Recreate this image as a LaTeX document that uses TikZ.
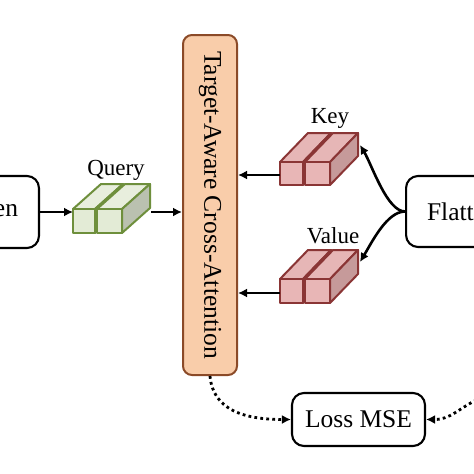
\documentclass[tikz,border=0pt]{standalone}
\usepackage{fontspec}
\setmainfont{Liberation Serif}
\usetikzlibrary{arrows.meta,calc}
\definecolor{qline}{HTML}{6E8F3C}
\definecolor{qfront}{HTML}{E3EBD6}
\definecolor{qtop}{HTML}{E8EEDD}
\definecolor{qside}{HTML}{BAC1B0}
\definecolor{kline}{HTML}{8A3535}
\definecolor{kfront}{HTML}{E8B6B6}
\definecolor{ktop}{HTML}{E6B6B6}
\definecolor{kside}{HTML}{C69A9A}
\definecolor{afill}{HTML}{F9CDAA}
\definecolor{aline}{HTML}{8B4A28}
\newcommand{\bigf}{\fontsize{25.5}{30}\selectfont}
\newcommand{\labf}{\fontsize{23}{26}\selectfont}
% #1 x, #2 y (front top-left), #3 w, #4 h, #5 dx, #6 dy, #7 colour prefix
\newcommand{\mycuboid}[7]{%
  \filldraw[cubeline=#7, fill=#7top] (#1,#2) -- ++(#5,-#6) -- ++(#3,0) -- ++(-#5,#6) -- cycle;
  \filldraw[cubeline=#7, fill=#7side] ({#1+#3},#2) -- ++(#5,-#6) -- ++(0,#4) -- ++(-#5,#6) -- cycle;
  \filldraw[cubeline=#7, fill=#7front] (#1,#2) rectangle ++(#3,#4);
}
\tikzset{
  cubeline/.style={draw=#1line, line width=2pt, line join=round},
  box/.style={draw=black, line width=2.1pt, rounded corners=12pt, fill=white, inner sep=0pt},
  attnbox/.style={draw=aline, fill=afill, line width=2pt, rounded corners=9pt, inner sep=0pt},
  ghost/.style={inner sep=0pt, outer sep=0pt},
  arr/.style={line width=2.6pt, -{Latex[length=9pt,width=9pt]}},
  dotarr/.style={line width=2.8pt, dash pattern=on 2.8pt off 3.2pt, -{Latex[length=9pt,width=9pt]}},
  lab/.style={inner sep=0pt, anchor=base, font=\labf},
}
\begin{document}
\begin{tikzpicture}[x=1pt,y=-1pt]
\fill[white] (0,0) rectangle (474,474);
\useasboundingbox (0,0) rectangle (474,474);

% left (clipped) box
\node[box, minimum width=90pt, minimum height=72pt, anchor=east] (src) at (40,212) {};
\node[ghost, anchor=east, font=\bigf] (srctxt) at (18,211) {en};

% attention box
\node[attnbox, minimum width=54pt, minimum height=340pt] (attn) at (210,205)
  {\rotatebox{-90}{\bigf Target-Aware Cross-Attention}};

% Flatten box (clipped)
\node[box, minimum width=120pt, minimum height=71pt, anchor=west] (flat) at (405,211.5) {};
\node[ghost, anchor=west, font=\bigf] (flattxt) at (427,212) {Flatt};

% Loss box
\node[box, minimum width=133pt, minimum height=53pt, font=\bigf] (loss) at (358.5,419.5) {Loss MSE};

% Query cubes
\mycuboid{73}{209}{22}{24}{28}{25}{q}
\mycuboid{97}{209}{25}{24}{28}{25}{q}
\node[ghost, minimum width=78pt, minimum height=49pt] (query) at (112,208.5) {};
\node[lab] (querylab) at (116,175) {Query};

% Key cubes
\mycuboid{280}{162}{23}{23}{28}{29}{k}
\mycuboid{305}{162}{25}{23}{28}{29}{k}
\node[ghost, minimum width=78pt, minimum height=52pt] (key) at (319,159) {};
\node[lab] (keylab) at (330,123) {Key};

% Value cubes
\mycuboid{280}{279}{23}{24}{28}{29}{k}
\mycuboid{305}{279}{25}{24}{28}{29}{k}
\node[ghost, minimum width=78pt, minimum height=53pt] (value) at (319,276.5) {};
\node[lab] (valuelab) at (333,243) {Value};

% connectors
\draw[arr] (src.east) -- (src.east -| query.west);
\draw[arr] (query.east |- src.east) -- (src.east -| attn.west);

\coordinate (kout) at ($(key.south west)+(0,-10)$);
\coordinate (vout) at ($(value.south west)+(0,-10)$);
\draw[arr] (kout) -- (kout -| attn.east);
\draw[arr] (vout) -- (vout -| attn.east);

\coordinate (kin) at ($(key.north east)+(2,12)$);
\coordinate (vin) at ($(value.north east)+(2,12)$);
\draw[arr] (flat.west) .. controls +(-18,0) and +(12,20) .. (kin);
\draw[arr] (flat.west) .. controls +(-18,0) and +(12,-20) .. (vin);

\draw[dotarr] (attn.south) .. controls +(3,35) and +(-45,0) .. (loss.west);
\coordinate (rin) at (482,397);
\draw[dotarr] (rin) .. controls +(-25,12) and +(25,0) .. (loss.east);
\end{tikzpicture}
\end{document}
